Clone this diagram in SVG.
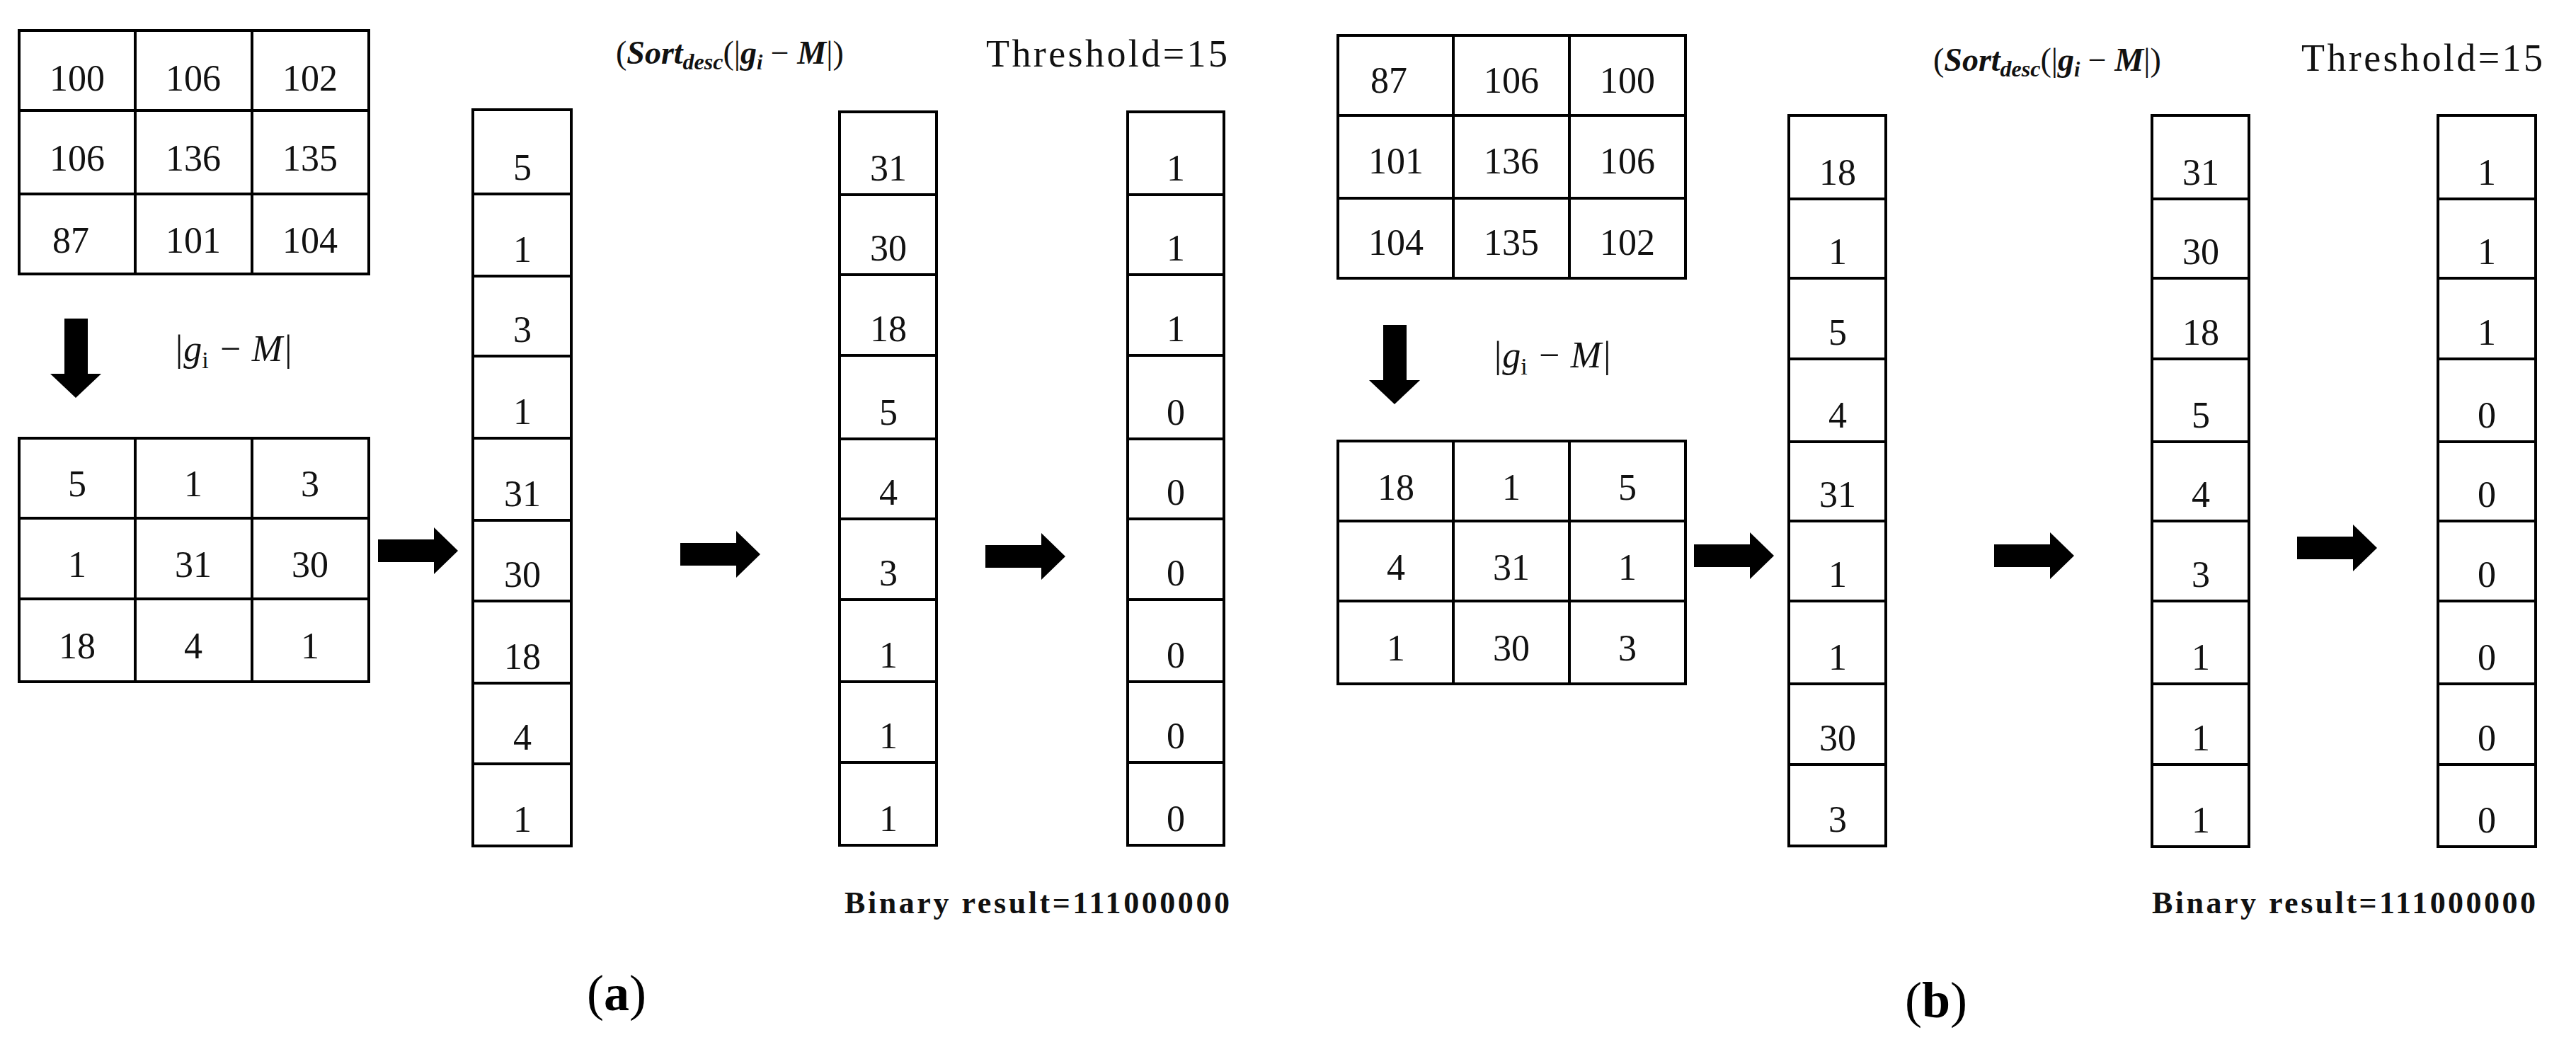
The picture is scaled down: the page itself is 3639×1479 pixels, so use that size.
<svg xmlns="http://www.w3.org/2000/svg" width="3639" height="1479" viewBox="0 0 3639 1479">
<style>
.c{fill:#fff;stroke:#000;stroke-width:4}
.t{font-family:"Liberation Serif",serif;font-size:52px;text-anchor:middle;fill:#111}
.m{font-family:"Liberation Serif",serif;font-size:52px;font-style:italic;fill:#111}
.s{font-family:"Liberation Serif",serif;font-size:46px;fill:#111}
.th{font-family:"Liberation Serif",serif;font-size:54px;fill:#111}
.b{font-family:"Liberation Serif",serif;font-size:44px;font-weight:bold;fill:#111}
.lab{font-family:"Liberation Serif",serif;font-size:72px;fill:#000}
.ar{fill:#000}
</style>
<defs>
<polygon id="ra" points="0,17 79,17 79,0 113,33 79,66 79,49 0,49"/>
<polygon id="da" points="20,0 53,0 53,78 72,78 36,112 0,78 20,78"/>
</defs>

<g id="grid-a1">
<rect class="c" x="27" y="43" width="494" height="344"/>
<path class="c" d="M191 43V387M356 43V387M27 156H521M27 274H521"/>
<text class="t" x="109" y="128">100</text><text class="t" x="273" y="128">106</text><text class="t" x="438" y="128">102</text>
<text class="t" x="109" y="241">106</text><text class="t" x="273" y="241">136</text><text class="t" x="438" y="241">135</text>
<text class="t" x="100" y="357">87</text><text class="t" x="273" y="357">101</text><text class="t" x="438" y="357">104</text>
</g>
<g id="label-a1"><text class="m" x="245" y="510">|g<tspan font-size="34" dy="10" font-style="normal">i</tspan><tspan dy="-10"> − M|</tspan></text></g>
<g id="grid-a2">
<rect class="c" x="27" y="619" width="494" height="344"/>
<path class="c" d="M191 619V963M356 619V963M27 732H521M27 846H521"/>
<text class="t" x="109" y="701">5</text><text class="t" x="273" y="701">1</text><text class="t" x="438" y="701">3</text>
<text class="t" x="109" y="815">1</text><text class="t" x="273" y="815">31</text><text class="t" x="438" y="815">30</text>
<text class="t" x="109" y="930">18</text><text class="t" x="273" y="930">4</text><text class="t" x="438" y="930">1</text>
</g>
<g id="col-a1">
<rect class="c" x="668" y="155" width="139" height="1040"/>
<path class="c" d="M668 274H807M668 390H807M668 503H807M668 619H807M668 735H807M668 849H807M668 965H807M668 1079H807"/>
<text class="t" x="738" y="254">5</text><text class="t" x="738" y="370">1</text><text class="t" x="738" y="483">3</text><text class="t" x="738" y="599">1</text><text class="t" x="738" y="715">31</text><text class="t" x="738" y="829">30</text><text class="t" x="738" y="945">18</text><text class="t" x="738" y="1059">4</text><text class="t" x="738" y="1175">1</text>
</g>
<g id="head-a">
<text class="s" x="870" y="90">(<tspan font-weight="bold" font-style="italic">Sort</tspan><tspan font-size="32" dy="8" font-weight="bold" font-style="italic">desc</tspan><tspan dy="-8">(|</tspan><tspan font-weight="bold" font-style="italic">g</tspan><tspan font-size="30" dy="8" font-weight="bold" font-style="italic">i</tspan><tspan dy="-8"> − </tspan><tspan font-weight="bold" font-style="italic">M</tspan>|)</text>
<text class="th" x="1393" y="94" textLength="341">Threshold=15</text>
</g>
<g id="col-a2">
<rect class="c" x="1186" y="158" width="137" height="1036"/>
<path class="c" d="M1186 275H1323M1186 388H1323M1186 502H1323M1186 620H1323M1186 733H1323M1186 847H1323M1186 963H1323M1186 1077H1323"/>
<text class="t" x="1255" y="255">31</text><text class="t" x="1255" y="368">30</text><text class="t" x="1255" y="482">18</text><text class="t" x="1255" y="600">5</text><text class="t" x="1255" y="713">4</text><text class="t" x="1255" y="827">3</text><text class="t" x="1255" y="943">1</text><text class="t" x="1255" y="1057">1</text><text class="t" x="1255" y="1174">1</text>
</g>
<g id="col-a3">
<rect class="c" x="1593" y="158" width="136" height="1036"/>
<path class="c" d="M1593 275H1729M1593 388H1729M1593 502H1729M1593 620H1729M1593 733H1729M1593 847H1729M1593 963H1729M1593 1077H1729"/>
<text class="t" x="1661" y="255">1</text><text class="t" x="1661" y="368">1</text><text class="t" x="1661" y="482">1</text><text class="t" x="1661" y="600">0</text><text class="t" x="1661" y="713">0</text><text class="t" x="1661" y="827">0</text><text class="t" x="1661" y="943">0</text><text class="t" x="1661" y="1057">0</text><text class="t" x="1661" y="1174">0</text>
</g>
<g id="result-a"><text class="b" x="1193" y="1290" textLength="544">Binary result=111000000</text></g>
<g id="cap-a"><text class="lab" x="829" y="1427">(<tspan font-weight="bold">a</tspan>)</text></g>

<g id="grid-b1">
<rect class="c" x="1890" y="50" width="491" height="343"/>
<path class="c" d="M2053 50V393M2217 50V393M1890 163H2381M1890 280H2381"/>
<text class="t" x="1962" y="131">87</text><text class="t" x="2135" y="131">106</text><text class="t" x="2299" y="131">100</text>
<text class="t" x="1972" y="245">101</text><text class="t" x="2135" y="245">136</text><text class="t" x="2299" y="245">106</text>
<text class="t" x="1972" y="360">104</text><text class="t" x="2135" y="360">135</text><text class="t" x="2299" y="360">102</text>
</g>
<g id="label-b1"><text class="m" x="2108" y="519">|g<tspan font-size="34" dy="10" font-style="normal">i</tspan><tspan dy="-10"> − M|</tspan></text></g>
<g id="grid-b2">
<rect class="c" x="1890" y="623" width="491" height="343"/>
<path class="c" d="M2053 623V966M2217 623V966M1890 736H2381M1890 849H2381"/>
<text class="t" x="1972" y="706">18</text><text class="t" x="2135" y="706">1</text><text class="t" x="2299" y="706">5</text>
<text class="t" x="1972" y="819">4</text><text class="t" x="2135" y="819">31</text><text class="t" x="2299" y="819">1</text>
<text class="t" x="1972" y="933">1</text><text class="t" x="2135" y="933">30</text><text class="t" x="2299" y="933">3</text>
</g>
<g id="col-b1">
<rect class="c" x="2527" y="163" width="137" height="1032"/>
<path class="c" d="M2527 281H2664M2527 393H2664M2527 507H2664M2527 624H2664M2527 736H2664M2527 849H2664M2527 966H2664M2527 1080H2664"/>
<text class="t" x="2596" y="261">18</text><text class="t" x="2596" y="373">1</text><text class="t" x="2596" y="487">5</text><text class="t" x="2596" y="604">4</text><text class="t" x="2596" y="716">31</text><text class="t" x="2596" y="829">1</text><text class="t" x="2596" y="946">1</text><text class="t" x="2596" y="1060">30</text><text class="t" x="2596" y="1175">3</text>
</g>
<g id="head-b">
<text class="s" x="2731" y="100">(<tspan font-weight="bold" font-style="italic">Sort</tspan><tspan font-size="32" dy="8" font-weight="bold" font-style="italic">desc</tspan><tspan dy="-8">(|</tspan><tspan font-weight="bold" font-style="italic">g</tspan><tspan font-size="30" dy="8" font-weight="bold" font-style="italic">i</tspan><tspan dy="-8"> − </tspan><tspan font-weight="bold" font-style="italic">M</tspan>|)</text>
<text class="th" x="3251" y="100" textLength="341">Threshold=15</text>
</g>
<g id="col-b2">
<rect class="c" x="3040" y="163" width="137" height="1033"/>
<path class="c" d="M3040 281H3177M3040 393H3177M3040 507H3177M3040 624H3177M3040 736H3177M3040 849H3177M3040 966H3177M3040 1080H3177"/>
<text class="t" x="3109" y="261">31</text><text class="t" x="3109" y="373">30</text><text class="t" x="3109" y="487">18</text><text class="t" x="3109" y="604">5</text><text class="t" x="3109" y="716">4</text><text class="t" x="3109" y="829">3</text><text class="t" x="3109" y="946">1</text><text class="t" x="3109" y="1060">1</text><text class="t" x="3109" y="1176">1</text>
</g>
<g id="col-b3">
<rect class="c" x="3444" y="163" width="138" height="1033"/>
<path class="c" d="M3444 281H3582M3444 393H3582M3444 507H3582M3444 624H3582M3444 736H3582M3444 849H3582M3444 966H3582M3444 1080H3582"/>
<text class="t" x="3513" y="261">1</text><text class="t" x="3513" y="373">1</text><text class="t" x="3513" y="487">1</text><text class="t" x="3513" y="604">0</text><text class="t" x="3513" y="716">0</text><text class="t" x="3513" y="829">0</text><text class="t" x="3513" y="946">0</text><text class="t" x="3513" y="1060">0</text><text class="t" x="3513" y="1176">0</text>
</g>
<g id="result-b"><text class="b" x="3040" y="1290" textLength="542">Binary result=111000000</text></g>
<g id="cap-b"><text class="lab" x="2691" y="1437">(<tspan font-weight="bold">b</tspan>)</text></g>

<g id="connectors" class="ar">
<use href="#da" x="71" y="450"/>
<use href="#ra" x="534" y="745"/>
<use href="#ra" x="961" y="750"/>
<use href="#ra" x="1392" y="753"/>
<use href="#da" x="1934" y="459"/>
<use href="#ra" x="2393" y="752"/>
<use href="#ra" x="2817" y="752"/>
<use href="#ra" x="3245" y="741"/>
</g>
</svg>
